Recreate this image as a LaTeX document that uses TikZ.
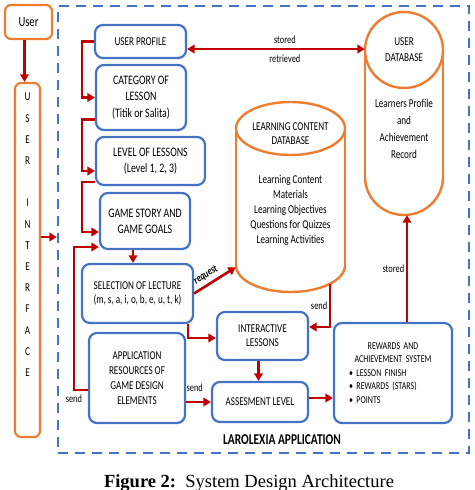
\documentclass[tikz,border=0pt]{standalone}
\usepackage{fontspec}
\setmainfont{Carlito}[FakeStretch=0.76]
\newfontfamily\captionfont{Liberation Serif}
\usepackage{xcolor}
\usepackage{tikz}
\usetikzlibrary{arrows.meta}
\usetikzlibrary{calc}
\usetikzlibrary{positioning}
\tikzset{>=latex}

\definecolor{boxblue}{RGB}{68,114,196}
\definecolor{dborange}{RGB}{237,125,49}
\definecolor{linkred}{RGB}{192,0,0}

\begin{document}
\begin{tikzpicture}[
        x=1pt, y=-1pt,
        module/.style={draw=boxblue, line width=2.2pt, rounded corners=8pt, fill=white, align=center, inner sep=2pt, font=\fontsize{12}{15}\selectfont},
        actor/.style={draw=dborange, line width=2.2pt, rounded corners=6pt, fill=white},
        appframe/.style={draw=boxblue, line width=2.4pt, dash pattern=on 10pt off 7pt},
        linkarrow/.style={draw=linkred, line width=2.6pt, -{Triangle[length=7.5pt, width=8.5pt]}},
        edgelabel/.style={font=\fontsize{11}{13}\selectfont, inner sep=1.5pt},
        dbtext/.style={align=center, inner sep=0pt}
    ]

    \useasboundingbox (0,0) rectangle (474,490);

    %=== Database macro ===%
    % centre x, top y, bottom y, x radius, y radius
    \newcommand{\database}[5]{
        \draw[draw=dborange, line width=2.4pt, fill=white] (#1,#3) ellipse (#4pt and #5pt);
        \fill[white] ({#1-#4},#2) rectangle ({#1+#4},#3);
        \draw[draw=dborange, line width=2.4pt] ({#1-#4},#2) -- ({#1-#4},#3) ({#1+#4},#2) -- ({#1+#4},#3);
        \draw[draw=dborange, line width=2.4pt, fill=white] (#1,#2) ellipse (#4pt and #5pt);
    }

    %=== User side ===%
    \node[actor, minimum width=47pt, minimum height=34pt, font=\fontsize{14}{16}\selectfont] (user) at (28.5,22) {User};
    \node[actor, minimum width=25pt, minimum height=354pt] (ui) at (27.5,260) {};
    \node[font=\fontsize{12}{21.2}\selectfont, align=center, anchor=north, inner sep=0pt] (uiletters) at ([yshift=-11pt]ui.north)
        {U\\S\\E\\R\\\mbox{}\\I\\N\\T\\E\\R\\F\\A\\C\\E};

    %=== Application frame ===%
    \node[appframe, minimum width=411pt, minimum height=447pt, inner sep=0pt] (larolexia) at (263.5,229.5) {};
    \node[font=\fontsize{15}{18}\selectfont\bfseries] (applabel) at (282,440) {LAROLEXIA APPLICATION};

    %=== Databases ===%
    \database{290.5}{128.5}{265.5}{54.5}{26.5}
    \node[minimum width=109pt, minimum height=190pt, inner sep=0pt] (lcdb) at (290.5,197) {};
    \node[dbtext, font=\fontsize{12}{14}\selectfont] (lcdbhead) at (290.5,134) {LEARNING CONTENT\\DATABASE};
    \node[dbtext, font=\fontsize{12}{15}\selectfont] (lcdbbody) at (290.5,210)
        {Learning Content\\Materials\\Learning Objectives\\Questions for Quizzes\\Learning Activities};

    \database{404}{50}{177}{39}{38}
    \node[minimum width=78pt, minimum height=203pt, inner sep=0pt] (udb) at (404,113.5) {};
    \node[dbtext, font=\fontsize{12}{16}\selectfont] (udbhead) at (404,50) {USER\\DATABASE};
    \node[dbtext, font=\fontsize{12}{17}\selectfont] (udbbody) at (404,129) {Learners Profile\\and\\Achievement\\Record};

    %=== Modules ===%
    \node[module, minimum width=91pt, minimum height=33pt] (profile) at (140.5,41.5) {USER PROFILE};
    \node[module, minimum width=90pt, minimum height=65pt, font=\fontsize{13}{16.5}\selectfont] (category) at (141,97.5)
        {CATEGORY OF\\LESSON\\(Titik or Salita)};
    \node[module, minimum width=109pt, minimum height=48pt, font=\fontsize{13}{16.5}\selectfont] (level) at (150.5,161)
        {LEVEL OF LESSONS\\(Level 1, 2, 3)};
    \node[module, minimum width=90pt, minimum height=56pt, font=\fontsize{13}{16}\selectfont] (story) at (145,221)
        {GAME STORY AND\\GAME GOALS};
    \node[module, minimum width=111pt, minimum height=59pt, font=\fontsize{12}{14}\selectfont] (selection) at (137.5,293.5)
        {SELECTION OF LECTURE\\(m, s, a, i, o, b, e, u, t, k)};
    \node[module, minimum width=96pt, minimum height=90pt] (resources) at (137,378)
        {APPLICATION\\RESOURCES OF\\GAME DESIGN\\ELEMENTS};
    \node[module, minimum width=91pt, minimum height=48pt, font=\fontsize{12}{14}\selectfont] (interactive) at (262.5,336)
        {INTERACTIVE\\LESSONS};
    \node[module, minimum width=96pt, minimum height=40pt] (assessment) at (260,402) {ASSESMENT LEVEL};
    \node[module, minimum width=118pt, minimum height=100pt, text width=88pt, inner xsep=15pt, align=left,
          font=\fontsize{10.5}{13.5}\selectfont] (rewards) at (393,373)
        {{\centering REWARDS AND\\ACHIEVEMENT SYSTEM\par}\textbullet\ LESSON FINISH\\\textbullet\ REWARDS (STARS)\\\textbullet\ POINTS};

    %=== Links ===%
    \draw[linkarrow] ([xshift=-4pt]user.south) -- ([xshift=-4pt]user.south |- ui.north);
    \draw[linkarrow] ([yshift=23pt]ui.east) -- ([yshift=23pt]ui.east -| larolexia.west);

    \draw[linkarrow] (profile.west) -- ++(-12,0) |- (category.west);
    \draw[linkarrow] ([yshift=-22pt]category.west) -- ++(-13,0) |- ([yshift=-10pt]level.west);
    \draw[linkarrow] ([yshift=-21pt]level.west) -- ++(-13,0) |- ([yshift=-11pt]story.west);
    \draw[linkarrow] ([yshift=-12pt]resources.west) -- ++(-14,0) node[edgelabel, below=2pt]{send} |- ([yshift=-26pt]story.west);

    \coordinate (profout) at ([yshift=-7.5pt]profile.east);
    \draw[linkarrow, {Triangle[length=7.5pt, width=8.5pt]}-{Triangle[length=7.5pt, width=8.5pt]}] (profout)
        -- node[edgelabel, pos=0.55, above=3pt]{stored} node[edgelabel, pos=0.55, below=3pt]{retrieved} (profout -| udb.west);

    \draw[linkarrow] ([xshift=-12pt]story.south) -- ([xshift=-12pt]story.south |- selection.north);
    \draw[linkarrow] (selection.east) -- node[edgelabel, pos=0.4, above=2pt, sloped, font=\fontsize{11}{13}\selectfont\bfseries\itshape]{request} ([yshift=25pt]lcdb.south west);
    \draw[linkarrow] ([xshift=39.5pt, yshift=8pt]lcdb.south) |- node[edgelabel, pos=0.25, left]{send} ([yshift=9pt]interactive.east);
    \draw[linkarrow] ([xshift=-6pt]selection.south east) |- ([yshift=-2pt]interactive.west);
    \draw[linkarrow] ([xshift=-4pt]interactive.south) -- ([xshift=-4pt]interactive.south |- assessment.north);
    \draw[linkarrow] (resources.east |- assessment.west) -- node[edgelabel, pos=0.35, above=8pt]{send} (assessment.west);
    \draw[linkarrow] ([yshift=4pt]assessment.east) -- ([yshift=4pt]assessment.east -| rewards.west);

    \coordinate (udbin) at ([xshift=3pt]udb.south);
    \draw[linkarrow] (rewards.north -| udbin) -- node[edgelabel, left]{stored} (udbin);

    %=== Caption ===%
    \node[font=\captionfont\fontsize{18.5}{22}\selectfont, anchor=base, inner sep=0pt] (caption) at (249,487)
        {\textbf{Figure 2:}~~System Design Architecture};

\end{tikzpicture}
\end{document}
